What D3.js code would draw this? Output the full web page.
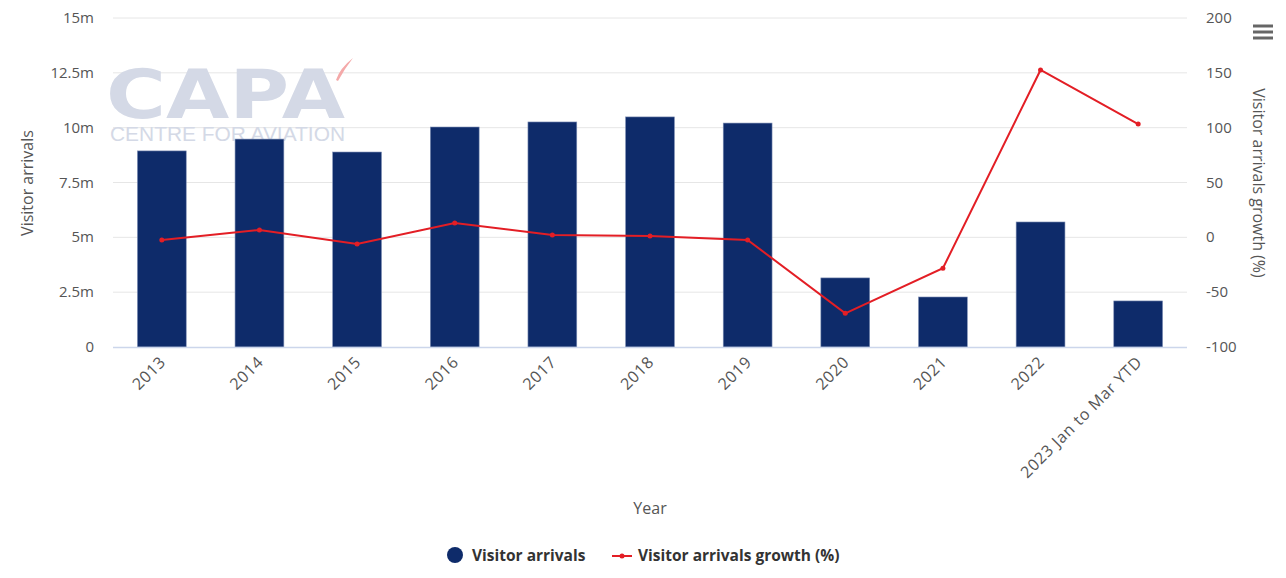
<!DOCTYPE html>
<html>
<head>
<meta charset="utf-8">
<script src="https://cdn.jsdelivr.net/npm/d3@7"></script>
<style>
  body { margin: 0; background: #fff; }
  text { font-family: "Open Sans", Lato, sans-serif; }
</style>
</head>
<body>
<svg id="chart" width="1286" height="578"></svg>
<script>
// chart data
const years = ['2013', '2014', '2015', '2016', '2017', '2018', '2019', '2020', '2021', '2022', '2023 Jan to Mar YTD'];
const arrivals = [8.94, 9.48, 8.89, 10.03, 10.26, 10.49, 10.21, 3.15, 2.28, 5.70, 2.10]; // millions
const growth = [-2.4, 6.7, -6.0, 13.1, 2.1, 1.2, -2.4, -69.3, -28.2, 152.6, 103.3]; // %
const leftTicks = [0, 2.5, 5, 7.5, 10, 12.5, 15];
const rightTicks = [-100, -50, 0, 50, 100, 150, 200];

const svg = d3.select('#chart');
const plot = { left: 113, right: 1187, top: 18, bottom: 347 };

const x = d3.scaleBand().domain(years).range([plot.left, plot.right]).paddingInner(0.5).paddingOuter(0.25);
const yL = d3.scaleLinear().domain([0, 15]).range([plot.bottom, plot.top]);
const yR = d3.scaleLinear().domain([-100, 200]).range([plot.bottom, plot.top]);

// gridlines
svg.append('g')
    .selectAll('line')
    .data(leftTicks.filter(d => d > 0))
    .join('line')
    .attr('x1', plot.left).attr('x2', plot.right)
    .attr('y1', d => yL(d)).attr('y2', d => yL(d))
    .attr('stroke', '#e6e6e6').attr('stroke-width', 1);

// CAPA watermark
let wm = svg.append('g');
wm.append('text')
    .attr('x', 106).attr('y', 118)
    .attr('textLength', 239).attr('lengthAdjust', 'spacingAndGlyphs')
    .style('font-family', '"DejaVu Sans", sans-serif')
    .style('font-weight', 'bold').style('font-size', '68px')
    .attr('fill', '#d4d9e6').text('CAPA');
wm.append('text')
    .attr('x', 110).attr('y', 141)
    .attr('textLength', 235).attr('lengthAdjust', 'spacingAndGlyphs')
    .style('font-family', '"Liberation Sans", Arial, sans-serif')
    .style('font-size', '19.5px')
    .attr('fill', '#d4d9e6').text('CENTRE FOR AVIATION');
wm.append('path')
    .attr('d', 'M336,80 Q340,68 353,58 Q345,68 338,81 Z')
    .attr('fill', '#f4a9a9');

// bars
svg.append('g')
    .selectAll('rect')
    .data(years)
    .join('rect')
    .attr('x', d => x(d))
    .attr('width', x.bandwidth())
    .attr('y', (d, i) => yL(arrivals[i]))
    .attr('height', (d, i) => plot.bottom - yL(arrivals[i]))
    .attr('fill', '#0e2b6a')
    .attr('stroke', '#7f8fb5').attr('stroke-width', 0.6);

// x axis line
svg.append('line')
    .attr('x1', plot.left).attr('x2', plot.right)
    .attr('y1', plot.bottom + 0.5).attr('y2', plot.bottom + 0.5)
    .attr('stroke', '#ccd6eb').attr('stroke-width', 1.5);

// growth line
const line = d3.line()
    .x((d, i) => x(years[i]) + x.bandwidth() / 2)
    .y(d => yR(d));
svg.append('path')
    .datum(growth)
    .attr('d', line)
    .attr('fill', 'none')
    .attr('stroke', '#e31e25').attr('stroke-width', 2);
svg.append('g')
    .selectAll('circle')
    .data(growth)
    .join('circle')
    .attr('cx', (d, i) => x(years[i]) + x.bandwidth() / 2)
    .attr('cy', d => yR(d))
    .attr('r', 2.5)
    .attr('fill', '#e31e25');

// left axis
const fmtM = d => d + 'm';
svg.append('g')
    .selectAll('text')
    .data(leftTicks)
    .join('text')
    .attr('x', 94).attr('y', d => yL(d) + 5)
    .attr('text-anchor', 'end')
    .style('font-size', '15px').attr('fill', '#555')
    .text(d => d === 0 ? '0' : fmtM(d));

// right axis
svg.append('g')
    .selectAll('text')
    .data(rightTicks)
    .join('text')
    .attr('x', 1206).attr('y', d => yR(d) + 5)
    .attr('text-anchor', 'start')
    .style('font-size', '15px').attr('fill', '#555')
    .text(d => d);

// x labels
svg.append('g')
    .selectAll('text')
    .data(years)
    .join('text')
    .attr('transform', d => `translate(${x(d) + x.bandwidth() / 2 + 5},${plot.bottom + 16}) rotate(-45)`)
    .attr('text-anchor', 'end')
    .style('font-size', '16px').style('letter-spacing', '0.7px').attr('fill', '#555')
    .text(d => d);

// axis titles
svg.append('text')
    .attr('transform', 'translate(33,183) rotate(-90)')
    .attr('text-anchor', 'middle')
    .style('font-size', '16px').attr('fill', '#555')
    .text('Visitor arrivals');
svg.append('text')
    .attr('transform', 'translate(1253,183) rotate(90)')
    .attr('text-anchor', 'middle')
    .style('font-size', '16px').attr('fill', '#555')
    .text('Visitor arrivals growth (%)');
svg.append('text')
    .attr('x', 650).attr('y', 514)
    .attr('text-anchor', 'middle')
    .style('font-size', '16px').attr('fill', '#555')
    .text('Year');

// legend
const lg = svg.append('g');
lg.append('circle').attr('cx', 455).attr('cy', 555).attr('r', 8).attr('fill', '#0e2b6a');
lg.append('text').attr('x', 472).attr('y', 561)
    .style('font-size', '15.5px').style('font-weight', 'bold').attr('fill', '#333')
    .text('Visitor arrivals');
lg.append('line').attr('x1', 612).attr('x2', 632).attr('y1', 556).attr('y2', 556)
    .attr('stroke', '#e31e25').attr('stroke-width', 2);
lg.append('circle').attr('cx', 622).attr('cy', 556).attr('r', 2.5).attr('fill', '#e31e25');
lg.append('text').attr('x', 638).attr('y', 561)
    .style('font-size', '15.5px').style('font-weight', 'bold').attr('fill', '#333')
    .text('Visitor arrivals growth (%)');

// menu icon
svg.append('g')
    .selectAll('line')
    .data([0, 1, 2])
    .join('line')
    .attr('x1', 1253).attr('x2', 1273)
    .attr('y1', d => 26 + d * 6).attr('y2', d => 26 + d * 6)
    .attr('stroke', '#666').attr('stroke-width', 3);
</script>
</body>
</html>
